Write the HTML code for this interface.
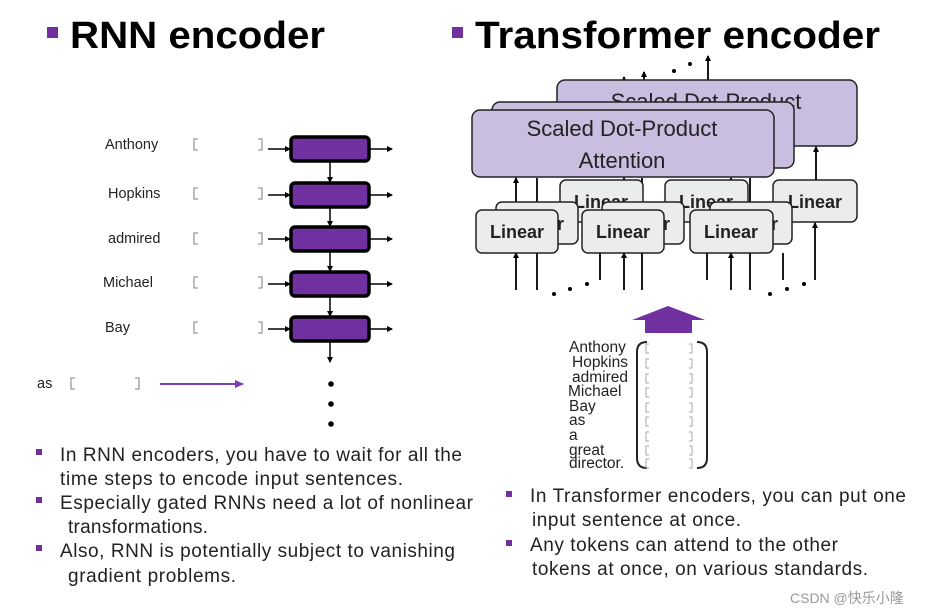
<!DOCTYPE html>
<html><head><meta charset="utf-8"><style>html,body{margin:0;padding:0;background:#fff}svg{display:block}</style></head><body>
<svg width="943" height="616" viewBox="0 0 943 616" xmlns="http://www.w3.org/2000/svg" font-family="Liberation Sans, sans-serif">
<defs><marker id="a" markerWidth="6" markerHeight="6" refX="5" refY="3" orient="auto" markerUnits="userSpaceOnUse"><path d="M0,0 L6,3 L0,6z" fill="#000"/></marker>
<marker id="p" markerWidth="9" markerHeight="8" refX="8" refY="4" orient="auto" markerUnits="userSpaceOnUse"><path d="M0,0 L9,4 L0,8z" fill="#7b3fb0"/></marker></defs>
<rect width="943" height="616" fill="#fff"/>
<rect x="47" y="27" width="11" height="11" fill="#7030a0"/>
<text x="70" y="48" font-size="38" font-weight="bold" textLength="255" lengthAdjust="spacingAndGlyphs">RNN encoder</text>
<rect x="452" y="27" width="11" height="11" fill="#7030a0"/>
<text x="475" y="48" font-size="38" font-weight="bold" textLength="405" lengthAdjust="spacingAndGlyphs">Transformer encoder</text>
<g font-size="14.5" fill="#222">
<text x="105" y="149">Anthony</text><text x="108" y="198">Hopkins</text><text x="108" y="243">admired</text><text x="103" y="287">Michael</text><text x="105" y="332">Bay</text><text x="37" y="388">as</text>
</g>
<g stroke="#999" stroke-width="1.3" fill="none">
<path d="M198,139h-4v11h4M258,139h4v11h-4"/><path d="M198,188h-4v11h4M258,188h4v11h-4"/><path d="M198,233h-4v11h4M258,233h4v11h-4"/><path d="M198,277h-4v11h4M258,277h4v11h-4"/><path d="M198,322h-4v11h4M258,322h4v11h-4"/><path d="M75,378h-4v11h4M135,378h4v11h-4"/>
</g>
<g stroke="#000" stroke-width="1.5" marker-end="url(#a)">
<line x1="268" y1="149" x2="290" y2="149"/><line x1="369" y1="149" x2="392" y2="149"/>
<line x1="268" y1="195" x2="290" y2="195"/><line x1="369" y1="195" x2="392" y2="195"/>
<line x1="268" y1="239" x2="290" y2="239"/><line x1="369" y1="239" x2="392" y2="239"/>
<line x1="268" y1="284" x2="290" y2="284"/><line x1="369" y1="284" x2="392" y2="284"/>
<line x1="268" y1="329" x2="290" y2="329"/><line x1="369" y1="329" x2="392" y2="329"/>
<line x1="330" y1="161" x2="330" y2="182"/><line x1="330" y1="207" x2="330" y2="226"/><line x1="330" y1="251" x2="330" y2="271"/><line x1="330" y1="296" x2="330" y2="316"/><line x1="330" y1="341" x2="330" y2="362"/>
</g>
<g fill="#7030a0" stroke="#000" stroke-width="3.5">
<rect x="291" y="137" width="78" height="24" rx="4"/><rect x="291" y="183" width="78" height="24" rx="4"/><rect x="291" y="227" width="78" height="24" rx="4"/><rect x="291" y="272" width="78" height="24" rx="4"/><rect x="291" y="317" width="78" height="24" rx="4"/>
</g>
<g fill="#000"><circle cx="331" cy="384" r="2.8"/><circle cx="331" cy="404" r="2.8"/><circle cx="331" cy="424" r="2.8"/></g>
<line x1="160" y1="384" x2="243" y2="384" stroke="#7b3fb0" stroke-width="2" marker-end="url(#p)"/>
<g font-size="19" fill="#222" lengthAdjust="spacingAndGlyphs">
<rect x="36" y="449" width="6" height="6" fill="#7030a0"/><text x="60" y="461" textLength="402">In RNN encoders, you have to wait for all the</text><text x="60" y="485" textLength="343">time steps to encode input sentences.</text>
<rect x="36" y="497" width="6" height="6" fill="#7030a0"/><text x="60" y="509" textLength="413">Especially gated RNNs need a lot of nonlinear</text><text x="68" y="533" textLength="140">transformations.</text>
<rect x="36" y="545" width="6" height="6" fill="#7030a0"/><text x="60" y="557" textLength="395">Also, RNN is potentially subject to vanishing</text><text x="68" y="582" textLength="168">gradient problems.</text>
</g>
<g stroke="#000" stroke-width="1.8" fill="none" marker-end="url(#a)">
<line x1="708" y1="80" x2="708" y2="56"/><line x1="624" y1="100" x2="624" y2="77"/><line x1="644" y1="100" x2="644" y2="72"/>
<line x1="816" y1="180" x2="816" y2="147"/>
<line x1="516" y1="210" x2="516" y2="178"/><line x1="624" y1="210" x2="624" y2="178"/><line x1="731" y1="210" x2="731" y2="178"/>
<line x1="516" y1="290" x2="516" y2="253"/><line x1="624" y1="290" x2="624" y2="253"/><line x1="731" y1="290" x2="731" y2="253"/><line x1="815" y1="280" x2="815" y2="223"/>
</g>
<g stroke="#000" stroke-width="1.8">
<line x1="537" y1="178" x2="537" y2="210"/><line x1="642" y1="178" x2="642" y2="210"/><line x1="750" y1="178" x2="750" y2="210"/>
<line x1="537" y1="253" x2="537" y2="290"/><line x1="642" y1="253" x2="642" y2="290"/><line x1="750" y1="253" x2="750" y2="290"/>
<line x1="600" y1="253" x2="600" y2="280"/><line x1="707" y1="253" x2="707" y2="280"/><line x1="783" y1="253" x2="783" y2="280"/>
</g>
<g fill="#000"><circle cx="674" cy="71" r="2"/><circle cx="690" cy="64" r="2"/><circle cx="554" cy="294" r="2"/><circle cx="570" cy="289" r="2"/><circle cx="587" cy="284" r="2"/><circle cx="770" cy="294" r="2"/><circle cx="787" cy="289" r="2"/><circle cx="804" cy="284" r="2"/></g>
<rect x="557" y="80" width="300" height="66" rx="8" fill="#c9bde0" stroke="#222" stroke-width="1.5"/>
<text x="706" y="109" font-size="22" fill="#222" text-anchor="middle">Scaled Dot-Product</text>
<rect x="492" y="102" width="302" height="66" rx="8" fill="#c9bde0" stroke="#222" stroke-width="1.5"/>
<rect x="472" y="110" width="302" height="67" rx="8" fill="#c9bde0" stroke="#222" stroke-width="1.5"/>
<text x="622" y="136" font-size="22" fill="#222" text-anchor="middle">Scaled Dot-Product</text>
<text x="622" y="168" font-size="22" fill="#222" text-anchor="middle">Attention</text>
<g fill="#ebedeb" stroke="#222" stroke-width="1.5">
<rect x="560" y="180" width="83" height="42" rx="6"/><rect x="665" y="180" width="83" height="42" rx="6"/><rect x="773" y="180" width="84" height="42" rx="6"/>
</g>
<g font-size="18" font-weight="bold" fill="#222" text-anchor="middle">
<text x="601" y="208">Linear</text><text x="706" y="208">Linear</text><text x="815" y="208">Linear</text>
</g>
<g fill="#ebedeb" stroke="#222" stroke-width="1.5">
<rect x="496" y="202" width="82" height="42" rx="6"/><rect x="602" y="202" width="82" height="42" rx="6"/><rect x="710" y="202" width="82" height="42" rx="6"/>
</g>
<g font-size="18" font-weight="bold" fill="#222" text-anchor="middle">
<text x="537" y="230">Linear</text><text x="643" y="230">Linear</text><text x="751" y="230">Linear</text>
</g>
<g fill="#ebedeb" stroke="#222" stroke-width="1.5">
<rect x="476" y="210" width="82" height="43" rx="6"/><rect x="582" y="210" width="82" height="43" rx="6"/><rect x="690" y="210" width="83" height="43" rx="6"/>
</g>
<g font-size="18" font-weight="bold" fill="#222" text-anchor="middle">
<text x="517" y="238">Linear</text><text x="623" y="238">Linear</text><text x="731" y="238">Linear</text>
</g>
<path d="M632,320 L668,306 L705,320 L692,320 L692,333 L645,333 L645,320z" fill="#7030a0"/>
<g font-size="15.5" fill="#222">
<text x="569" y="352">Anthony</text><text x="572" y="367">Hopkins</text><text x="572" y="382">admired</text><text x="568" y="396">Michael</text><text x="569" y="411">Bay</text><text x="569" y="425">as</text><text x="569" y="440">a</text><text x="569" y="455">great</text><text x="569" y="468">director.</text>
</g>
<g stroke="#222" stroke-width="2" fill="none"><path d="M647,342 q-10,0 -10,10 v106 q0,10 10,10"/><path d="M697,342 q10,0 10,10 v106 q0,10 -10,10"/></g>
<g stroke="#aaa" stroke-width="1" fill="none">
<path d="M649,344h-3v9h3M649,359h-3v9h3M649,374h-3v9h3M649,388h-3v9h3M649,403h-3v9h3M649,417h-3v9h3M649,432h-3v9h3M649,446h-3v9h3M649,459h-3v9h3"/>
<path d="M689,344h3v9h-3M689,359h3v9h-3M689,374h3v9h-3M689,388h3v9h-3M689,403h3v9h-3M689,417h3v9h-3M689,432h3v9h-3M689,446h3v9h-3M689,459h3v9h-3"/>
</g>
<g font-size="19" fill="#222" lengthAdjust="spacingAndGlyphs">
<rect x="506" y="491" width="6" height="6" fill="#7030a0"/><text x="530" y="502" textLength="376">In Transformer encoders, you can put one</text><text x="532" y="526" textLength="209">input sentence at once.</text>
<rect x="506" y="540" width="6" height="6" fill="#7030a0"/><text x="530" y="551" textLength="308">Any tokens can attend to the other</text><text x="532" y="575" textLength="336">tokens at once, on various standards.</text>
</g>
<text x="790" y="603" font-size="14" fill="#999" font-family="Liberation Sans, Noto Sans CJK SC, sans-serif">CSDN @快乐小隆</text>
</svg>
</body></html>
